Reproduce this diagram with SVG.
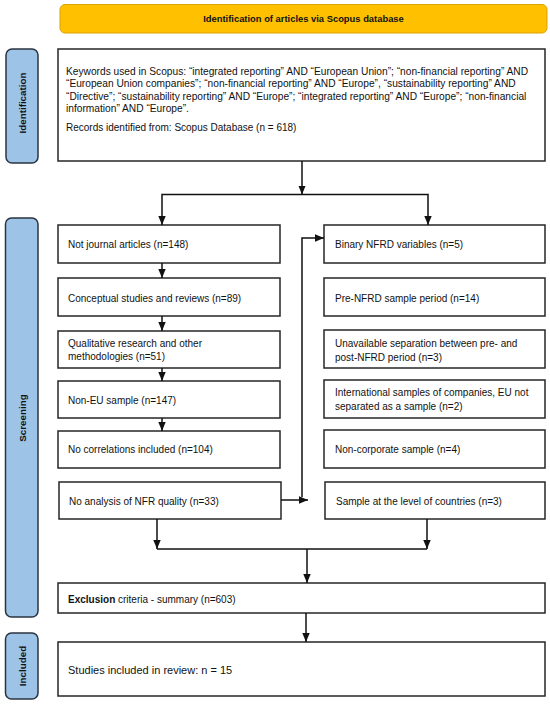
<svg xmlns="http://www.w3.org/2000/svg" width="550" height="704" viewBox="0 0 550 704">
<style>
.box{fill:#fff;stroke:#262626;stroke-width:1.5}
.lab{fill:#9DC3E6;stroke:#2B3442;stroke-width:1.5}
.t{font-family:"Liberation Sans",Arial,sans-serif;font-size:10px;fill:#111}
.k{font-size:10.2px}
.lt{font-family:"Liberation Sans",Arial,sans-serif;font-size:9.8px;font-weight:bold;fill:#111;text-anchor:middle}
.c{fill:none;stroke:#111;stroke-width:1.5}
</style>
<defs>
<marker id="ah" markerUnits="userSpaceOnUse" markerWidth="9" markerHeight="8" refX="9" refY="4" orient="auto">
<path d="M0,0.3 L9,4 L0,7.7 z" fill="#111"/>
</marker>
</defs>
<rect width="550" height="704" fill="#fff"/>
<g id="header">
<rect x="60" y="4.5" width="487" height="28.5" rx="5" fill="#FFC000" stroke="#D9A300" stroke-width="1"/>
<text x="303.5" y="22.3" class="t" style="font-weight:bold;font-size:9.4px;text-anchor:middle">Identification of articles via Scopus database</text>
</g>
<g id="label-identification">
<rect class="lab" x="6" y="49" width="32" height="114" rx="6"/>
<text class="lt" transform="translate(25.5,103) rotate(-90)">Identification</text>
</g>
<g id="label-screening">
<rect class="lab" x="5.5" y="218" width="32.5" height="399" rx="6"/>
<text class="lt" transform="translate(25.5,418) rotate(-90)">Screening</text>
</g>
<g id="label-included">
<rect class="lab" x="5.5" y="633" width="32.5" height="66" rx="6"/>
<text class="lt" transform="translate(25.5,666) rotate(-90)">Included</text>
</g>
<g id="identification">
<rect class="box" x="58" y="49" width="487" height="112"/>
<text class="t k" x="66" y="74.5">Keywords used in Scopus: “integrated reporting” AND “European Union”; “non-financial reporting” AND</text>
<text class="t k" x="66" y="87">“European Union companies”; “non-financial reporting” AND “Europe”, “sustainability reporting” AND</text>
<text class="t k" x="66" y="99.5">“Directive”; “sustainability reporting” AND “Europe”; “integrated reporting” AND “Europe”; “non-financial</text>
<text class="t k" x="66" y="111.8">information” AND “Europe”.</text>
<text class="t" x="66" y="130.5">Records identified from: Scopus Database (n = 618)</text>
</g>
<g id="not-journal">
<rect class="box" x="58" y="225" width="222" height="38"/>
<text class="t" x="68" y="247.5">Not journal articles (n=148)</text>
</g>
<g id="conceptual">
<rect class="box" x="58" y="278" width="222" height="38"/>
<text class="t" x="68" y="301.5">Conceptual studies and reviews (n=89)</text>
</g>
<g id="qualitative">
<rect class="box" x="58" y="331" width="222" height="37"/>
<text class="t" x="68" y="346.8">Qualitative research and other</text>
<text class="t" x="68" y="360.2">methodologies (n=51)</text>
</g>
<g id="non-eu">
<rect class="box" x="58" y="381" width="222" height="37"/>
<text class="t" x="68" y="403.5">Non-EU sample (n=147)</text>
</g>
<g id="no-correlations">
<rect class="box" x="58" y="431" width="222" height="37"/>
<text class="t" x="68" y="452.5">No correlations included (n=104)</text>
</g>
<g id="no-analysis">
<rect class="box" x="59" y="482" width="222" height="37"/>
<text class="t" x="69" y="504.5">No analysis of NFR quality (n=33)</text>
</g>
<g id="binary">
<rect class="box" x="324" y="225" width="221" height="38"/>
<text class="t" x="335" y="247.5">Binary NFRD variables (n=5)</text>
</g>
<g id="pre-nfrd">
<rect class="box" x="324" y="278" width="221" height="38"/>
<text class="t" x="335" y="301.5">Pre-NFRD sample period (n=14)</text>
</g>
<g id="unavailable">
<rect class="box" x="324" y="330" width="221" height="38"/>
<text class="t" x="335" y="346.5">Unavailable separation between pre- and</text>
<text class="t" x="335" y="360.5">post-NFRD period (n=3)</text>
</g>
<g id="international">
<rect class="box" x="324" y="380" width="221" height="38"/>
<text class="t" x="335" y="396.2">International samples of companies, EU not</text>
<text class="t" x="335" y="409.5">separated as a sample (n=2)</text>
</g>
<g id="non-corporate">
<rect class="box" x="324" y="430" width="221" height="38"/>
<text class="t" x="335" y="452.5">Non-corporate sample (n=4)</text>
</g>
<g id="countries">
<rect class="box" x="325" y="482" width="220" height="37"/>
<text class="t" x="336" y="504.5">Sample at the level of countries (n=3)</text>
</g>
<g id="exclusion">
<rect class="box" x="58" y="583" width="487" height="30"/>
<text class="t" x="68" y="603"><tspan font-weight="bold">Exclusion</tspan> criteria - summary (n=603)</text>
</g>
<g id="included">
<rect class="box" x="58" y="642" width="487" height="54"/>
<text class="t" x="68" y="673.5" style="font-size:11px">Studies included in review: n = 15</text>
</g>
<g id="connectors">
<path class="c" d="M302,161 V194.5" marker-end="url(#ah)"/>
<path class="c" d="M302,194.5 H162 V225" marker-end="url(#ah)"/>
<path class="c" d="M302,194.5 H428 V225" marker-end="url(#ah)"/>
<path class="c" d="M162,263 V278" marker-end="url(#ah)"/>
<path class="c" d="M162,316 V331" marker-end="url(#ah)"/>
<path class="c" d="M162,368 V381" marker-end="url(#ah)"/>
<path class="c" d="M162,418 V431" marker-end="url(#ah)"/>
<path class="c" d="M281,500 H308" marker-end="url(#ah)"/>
<path class="c" d="M302,497 V238 H324" marker-end="url(#ah)"/>
<path class="c" d="M157,519 V549" marker-end="url(#ah)"/>
<path class="c" d="M427,519 V549" marker-end="url(#ah)"/>
<path class="c" d="M157,549 H427"/>
<path class="c" d="M307,549 V583" marker-end="url(#ah)"/>
<path class="c" d="M306,613 V642" marker-end="url(#ah)"/>
</g>
</svg>
